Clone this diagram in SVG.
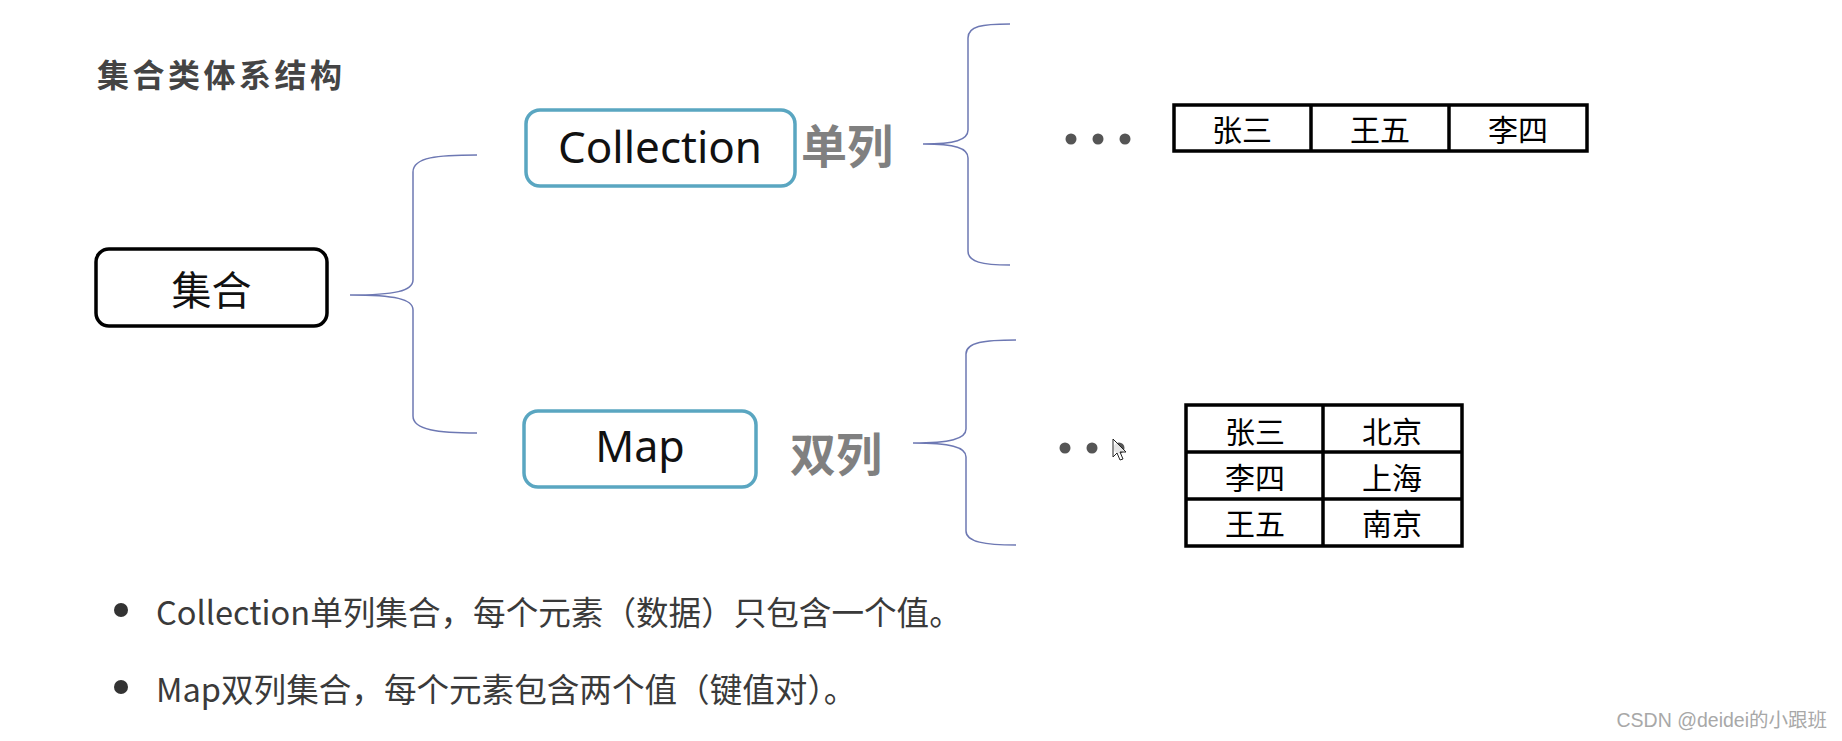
<svg xmlns="http://www.w3.org/2000/svg" width="1842" height="741" viewBox="0 0 1842 741">
<style>
.cjk{font-family:"Noto Sans CJK SC","Noto Sans",sans-serif}
.lat{font-family:"Noto Sans","Noto Sans CJK SC",sans-serif}
.brace{fill:none;stroke:#6d78b3;stroke-width:1.5}
.blue{fill:#fff;stroke:#5aa6c1;stroke-width:3.5}
.cell{fill:#fff;stroke:#000;stroke-width:3.5}
.tc{font-size:30px;fill:#000;text-anchor:middle;dominant-baseline:central}
.side{font-size:46px;font-weight:bold;fill:#808080;dominant-baseline:central}
.dot{fill:#555}
.bt{font-size:32.6px;fill:#3a3a3a;dominant-baseline:central}
</style>
<rect width="1842" height="741" fill="#fff"/>
<text id="title" class="cjk" x="97" y="73" font-size="32" font-weight="bold" fill="#444" letter-spacing="3.5" dominant-baseline="central">集合类体系结构</text>

<g id="connectors">
<path class="brace" d="M477,155 C438,155 413,157 413,172 L413,280 C413,291 395,295 350,295 C395,295 413,299 413,310 L413,416 C413,430 438,433 477,433"/>
<path class="brace" d="M1010,24 C982,24 968,26 968,38 L968,130 C968,140 955,144 923,144 C955,144 968,148 968,158 L968,251 C968,262 982,265 1010,265"/>
<path class="brace" d="M1016,340 C985,340 966,342 966,354 L966,429 C966,439 950,443 913,443 C950,443 966,447 966,457 L966,531 C966,542 985,545 1016,545"/>
</g>

<g id="node-jihe">
<rect x="96" y="249" width="231" height="77" rx="13" fill="#fff" stroke="#000" stroke-width="3.5"/>
<text class="cjk" x="211.5" y="287.5" font-size="40" fill="#111" text-anchor="middle" dominant-baseline="central">集合</text>
</g>

<g id="node-collection">
<rect class="blue" x="526" y="110" width="269" height="76" rx="14"/>
<text class="lat" x="660" y="162.5" font-size="44" fill="#111" text-anchor="middle">Collection</text>
<text class="cjk side" x="801" y="143">单列</text>
</g>

<g id="node-map">
<rect class="blue" x="524" y="411" width="232" height="76" rx="14"/>
<text class="lat" x="640" y="462" font-size="43" fill="#111" text-anchor="middle">Map</text>
<text class="cjk side" x="790" y="451">双列</text>
</g>

<g id="node-list">
<circle class="dot" cx="1071" cy="139" r="5.5"/>
<circle class="dot" cx="1098" cy="139" r="5.5"/>
<circle class="dot" cx="1125" cy="139" r="5.5"/>
<rect class="cell" x="1174" y="105" width="413" height="46"/>
<line x1="1311" y1="105" x2="1311" y2="151" stroke="#000" stroke-width="3.5"/>
<line x1="1449" y1="105" x2="1449" y2="151" stroke="#000" stroke-width="3.5"/>
<text class="cjk tc" x="1242" y="128">张三</text>
<text class="cjk tc" x="1380" y="128">王五</text>
<text class="cjk tc" x="1518" y="128">李四</text>
</g>

<g id="node-table">
<circle class="dot" cx="1065" cy="448" r="5.5"/>
<circle class="dot" cx="1092" cy="448" r="5.5"/>
<circle class="dot" cx="1119" cy="448" r="5.5"/>
<polygon points="1113,439 1113,457 1117,453 1120,460 1123,459 1120,452 1126,452" fill="#fff" fill-opacity="0.85" stroke="#222" stroke-width="1"/>
<rect class="cell" x="1186" y="405" width="276" height="141"/>
<line x1="1323" y1="405" x2="1323" y2="546" stroke="#000" stroke-width="3.5"/>
<line x1="1186" y1="452" x2="1462" y2="452" stroke="#000" stroke-width="3.5"/>
<line x1="1186" y1="499" x2="1462" y2="499" stroke="#000" stroke-width="3.5"/>
<text class="cjk tc" x="1255" y="430">张三</text>
<text class="cjk tc" x="1392" y="430">北京</text>
<text class="cjk tc" x="1255" y="476">李四</text>
<text class="cjk tc" x="1392" y="476">上海</text>
<text class="cjk tc" x="1255" y="522">王五</text>
<text class="cjk tc" x="1392" y="522">南京</text>
</g>

<g id="bullets">
<circle cx="121" cy="610" r="7" fill="#333"/>
<text class="cjk bt" x="156" y="610">Collection单列集合，每个元素（数据）只包含一个值。</text>
<circle cx="121" cy="687" r="7" fill="#333"/>
<text class="cjk bt" x="156" y="687">Map双列集合，每个元素包含两个值（键值对）。</text>
</g>

<text id="watermark" x="1827" y="727" font-family="'Liberation Sans','Noto Sans CJK SC',sans-serif" font-size="19.5" fill="#a8a8a8" text-anchor="end">CSDN @deidei的小跟班</text>
</svg>
